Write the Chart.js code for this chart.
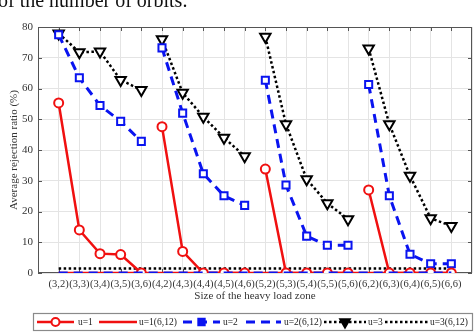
<!DOCTYPE html>
<html>
<head>
<meta charset="utf-8">
<script src="https://cdn.jsdelivr.net/npm/chart.js@4"></script>
<style>
  html, body { margin: 0; padding: 0; background: #fff; overflow: hidden; }
  #wrap { width: 480px; height: 332px; position: relative; }
</style>
</head>
<body>
<div id="wrap"><canvas id="myChart"></canvas></div>
<script>
const zones = ['(3,2)', '(3,3)', '(3,4)', '(3,5)', '(3,6)',
               '(4,2)', '(4,3)', '(4,4)', '(4,5)', '(4,6)',
               '(5,2)', '(5,3)', '(5,4)', '(5,5)', '(5,6)',
               '(6,2)', '(6,3)', '(6,4)', '(6,5)', '(6,6)'];
const yTicks = [0, 10, 20, 30, 40, 50, 60, 70, 80];

const u1 = [55.3, 14, 6.3, 6, 0,  47.6, 7, 0, 0, 0,  33.8, 0, 0, 0, 0,  27, 0, 0, 0, 0];
const u2 = [77.5, 63.5, 54.5, 49.3, 42.8,  73.2, 52, 32.3, 25.1, 22,  62.7, 28.6, 12, 9, 9,  61.3, 25.1, 6.1, 3, 3];
const u3 = [77.9, 71.8, 72, 62.8, 59.5,  76, 58.6, 50.8, 44, 38,  76.8, 48.4, 30.5, 22.7, 17.5,  73, 48.4, 31.6, 17.8, 15.3];
const u1Ref = [0, 0, 0, 0, 0, 0, 0, 0, 0, 0, 0, 0, 0, 0, 0, 0, 0, 0, 0, 0];
const u2Ref = [0, 0, 0, 0, 0, 0, 0, 0, 0, 0, 0, 0, 0, 0, 0, 0, 0, 0, 0, 0];
const u3Ref = [1.5, 1.5, 1.5, 1.5, 1.5, 1.5, 1.5, 1.5, 1.5, 1.5, 1.5, 1.5, 1.5, 1.5, 1.5, 1.5, 1.5, 1.5, 1.5, 1.5];

const serif = '"Liberation Serif", "Times New Roman", serif';
const RED = '#f01010';
const BLUE = '#0a14f0';
const BLACK = '#000000';

// zone index on a linear axis, so there is a full step of room at each end
const pts = arr => arr.map((v, i) => ({ x: i, y: v }));

// break the line between zone groups (every 5 categories)
const groupBreak = ctx => (ctx.p0DataIndex % 5 === 4 ? 'transparent' : undefined);

const datasets = [
  { label: 'u=1', data: pts(u1), borderColor: RED, borderWidth: 2.5, order: 1,
    pointStyle: 'circle', pointRadius: 4.5, pointBorderWidth: 2, pointBackgroundColor: '#fff', pointBorderColor: RED,
    segment: { borderColor: groupBreak } },
  { label: 'u=1(6,12)', data: pts(u1Ref), borderColor: RED, borderWidth: 2.5, pointRadius: 0, order: 3 },
  { label: 'u=2', data: pts(u2), borderColor: BLUE, borderWidth: 3, borderDash: [9, 6], order: 2,
    pointStyle: 'rect', pointRadius: 5, pointBorderWidth: 2, pointBackgroundColor: '#fff', pointBorderColor: BLUE,
    segment: { borderColor: groupBreak } },
  { label: 'u=2(6,12)', data: pts(u2Ref), borderColor: BLUE, borderWidth: 3, borderDash: [9, 6], pointRadius: 0, order: 0 },
  { label: 'u=3', data: pts(u3), borderColor: BLACK, borderWidth: 2.5, borderDash: [2.5, 2.5], order: 2,
    pointStyle: 'triangle', pointRotation: 180, pointRadius: 6, pointBorderWidth: 2, pointBackgroundColor: '#fff', pointBorderColor: BLACK,
    segment: { borderColor: groupBreak } },
  { label: 'u=3(6,12)', data: pts(u3Ref), borderColor: BLACK, borderWidth: 2.5, borderDash: [2.5, 2.5], pointRadius: 0, order: 2 }
];

// box + inward ticks like the original figure
const frame = {
  id: 'frame',
  beforeDatasetsDraw(chart) {
    const { ctx, chartArea: a, scales: { x, y } } = chart;
    ctx.save();
    ctx.strokeStyle = '#555';
    ctx.lineWidth = 1;
    ctx.strokeRect(a.left + 0.5, a.top + 0.5, a.right - a.left - 1, a.bottom - a.top - 1);
    ctx.beginPath();
    zones.forEach((z, i) => {
      const px = Math.round(x.getPixelForValue(i)) + 0.5;
      ctx.moveTo(px, a.top); ctx.lineTo(px, a.top + 4);
      ctx.moveTo(px, a.bottom); ctx.lineTo(px, a.bottom - 4);
    });
    yTicks.forEach(v => {
      const py = Math.round(y.getPixelForValue(v)) + 0.5;
      ctx.moveTo(a.left, py); ctx.lineTo(a.left + 4, py);
      ctx.moveTo(a.right, py); ctx.lineTo(a.right - 4, py);
    });
    ctx.stroke();
    ctx.restore();
  }
};

// one-row legend with line samples, and the cropped caption on top
const legendRow = {
  id: 'legendRow',
  afterDraw(chart) {
    const ctx = chart.ctx;
    ctx.save();
    ctx.font = '20px ' + serif;
    ctx.fillStyle = '#111';
    ctx.textBaseline = 'alphabetic';
    ctx.fillText('of the number of orbits.', -2, 7);

    ctx.fillStyle = '#fff';
    ctx.fillRect(33.5, 313.5, 439, 17);
    ctx.strokeStyle = '#8a8a8a';
    ctx.lineWidth = 1.2;
    ctx.strokeRect(33.5, 313.5, 439, 17);

    const cy = 322;
    const items = [
      { x0: 37, x1: 74, tx: 78, fill: '#fff' },
      { x0: 99, x1: 137, tx: 139 },
      { x0: 183, x1: 220, tx: 223, fill: BLUE },
      { x0: 246, x1: 281, tx: 284 },
      { x0: 324, x1: 366, tx: 368, fill: BLACK },
      { x0: 385, x1: 428, tx: 430 }
    ];
    ctx.font = '9.5px ' + serif;
    ctx.textBaseline = 'middle';
    items.forEach((it, i) => {
      const ds = datasets[i];
      ctx.save();
      ctx.strokeStyle = ds.borderColor;
      ctx.lineWidth = ds.borderWidth;
      ctx.setLineDash(ds.borderDash || []);
      ctx.beginPath();
      ctx.moveTo(it.x0, cy); ctx.lineTo(it.x1, cy);
      ctx.stroke();
      ctx.restore();
      if (ds.pointRadius) {
        ctx.save();
        ctx.strokeStyle = ds.pointBorderColor;
        ctx.fillStyle = it.fill;
        ctx.lineWidth = ds.pointBorderWidth;
        Chart.helpers.drawPoint(ctx, {
          pointStyle: ds.pointStyle, rotation: ds.pointRotation || 0,
          radius: ds.pointRadius - 0.5, borderWidth: ds.pointBorderWidth
        }, (it.x0 + it.x1) / 2, cy);
        ctx.restore();
      }
      ctx.fillStyle = '#222';
      ctx.fillText(ds.label, it.tx, cy + 0.5);
    });
    ctx.restore();
  }
};

const ctx = document.getElementById('myChart');
const chart = new Chart(ctx, {
  type: 'line',
  data: { datasets: datasets },
  plugins: [frame, legendRow],
  options: {
    responsive: true,
    maintainAspectRatio: false,
    animation: false,
    layout: { padding: { top: 27, right: 2, bottom: 19, left: 0 } },
    plugins: {
      legend: { display: false },
      tooltip: { enabled: false }
    },
    scales: {
      x: {
        type: 'linear',
        min: -1, max: zones.length,
        grid: { color: '#e4e4e4', drawTicks: false },
        border: { display: false },
        ticks: { stepSize: 1, autoSkip: false, maxRotation: 0, minRotation: 0, padding: 5,
                 color: '#333', font: { family: serif, size: 10.5 },
                 callback: v => (zones[v] !== undefined ? zones[v] : '') },
        title: { display: true, text: 'Size of the heavy load zone', color: '#333',
                 padding: { top: 0, bottom: 10 }, font: { family: serif, size: 11 } },
        afterFit(scale) { scale.height = 40; }
      },
      y: {
        min: 0, max: 80,
        grid: { color: '#e4e4e4', drawTicks: false },
        border: { display: false },
        ticks: { stepSize: 10, padding: 5, color: '#333', font: { family: serif, size: 11 } },
        title: { display: true, text: 'Average rejection ratio (%)', color: '#333',
                 padding: { top: 8, bottom: 0 }, font: { family: serif, size: 11 } },
        afterFit(scale) { scale.width = 38; }
      }
    }
  }
});
</script>
</body>
</html>
